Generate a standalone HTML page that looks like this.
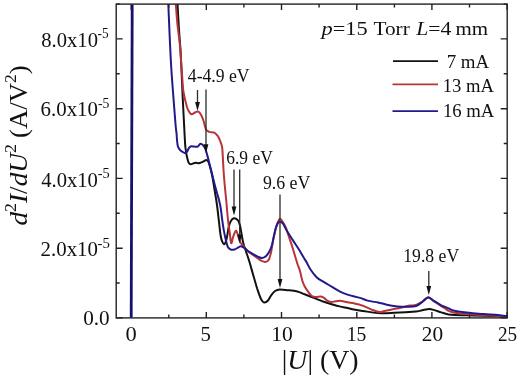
<!DOCTYPE html>
<html><head><meta charset="utf-8"><style>
html,body{margin:0;padding:0;background:#fff;}
svg{display:block;}
text{font-family:"Liberation Serif","Times New Roman",serif;fill:#111;}
.tl{font-size:19px;}
.sup{font-size:12.5px;}
.an{font-size:17px;}
.lg{font-size:18px;}
.ar{stroke:#2a2a2a;stroke-width:1.3;fill:none;}
.ah{fill:#111;stroke:none;}
.c{fill:none;stroke-width:2;stroke-linejoin:round;stroke-linecap:round;}
</style></head><body>
<svg width="520" height="379" viewBox="0 0 520 379">
<rect width="520" height="379" fill="#fff"/>
<defs><clipPath id="pc"><rect x="116.2" y="4.1" width="391.0" height="313.79999999999995"/></clipPath></defs>
<g clip-path="url(#pc)">
<path class="c" stroke="#111" d="M177.5 4.0 C177.8 8.3 178.5 22.3 179.0 30.0 C179.5 37.7 180.1 43.3 180.5 50.0 C180.9 56.7 181.1 61.1 181.5 70.0 C181.9 78.9 182.4 92.2 183.0 103.6 C183.6 115.0 184.4 131.1 184.8 138.5 C185.2 145.9 185.2 145.1 185.5 148.0 C185.8 150.9 186.3 153.6 186.8 156.0 C187.3 158.4 187.9 160.9 188.5 162.3 C189.1 163.7 189.5 164.2 190.5 164.3 C191.5 164.4 193.4 163.2 194.5 163.0 C195.6 162.8 196.3 162.8 197.0 162.9 C197.7 163.0 197.8 163.4 198.6 163.3 C199.3 163.2 200.7 162.7 201.5 162.4 C202.3 162.1 202.9 161.7 203.7 161.3 C204.5 160.9 205.4 160.1 206.2 160.1 C206.9 160.1 207.6 160.6 208.2 161.6 C208.8 162.6 209.2 163.9 209.8 166.0 C210.4 168.1 211.1 170.3 211.9 174.3 C212.7 178.3 213.8 184.9 214.6 190.0 C215.4 195.1 216.3 199.7 217.0 205.0 C217.7 210.3 218.4 216.8 219.0 222.0 C219.6 227.2 220.2 232.8 220.7 236.0 C221.2 239.2 221.4 239.6 222.0 241.0 C222.6 242.4 223.3 244.2 224.0 244.3 C224.7 244.4 225.3 242.8 225.9 241.3 C226.5 239.8 226.9 237.7 227.3 235.4 C227.8 233.1 228.1 229.8 228.6 227.5 C229.1 225.2 229.7 223.1 230.6 221.5 C231.5 219.9 232.7 218.4 233.9 218.2 C235.1 218.0 236.8 219.1 237.8 220.2 C238.8 221.3 239.2 222.9 239.8 224.8 C240.4 226.7 240.7 229.0 241.1 231.4 C241.5 233.8 242.1 237.1 242.5 239.4 C242.9 241.7 243.2 242.9 243.8 245.0 C244.4 247.1 245.2 249.0 246.2 252.0 C247.2 255.0 248.6 259.0 249.8 263.0 C251.0 267.0 252.2 271.7 253.5 276.0 C254.8 280.3 256.1 285.2 257.3 289.0 C258.6 292.8 259.9 296.8 261.0 299.0 C262.1 301.2 262.8 302.2 264.0 302.5 C265.2 302.8 266.8 301.8 268.0 300.5 C269.2 299.2 270.2 296.6 271.4 295.0 C272.6 293.4 273.7 291.9 275.1 291.0 C276.5 290.1 277.6 289.6 279.7 289.5 C281.8 289.4 285.1 289.9 288.0 290.2 C290.9 290.5 294.5 290.8 297.3 291.5 C300.1 292.2 301.5 293.1 304.6 294.3 C307.7 295.5 312.6 297.4 315.8 298.6 C319.0 299.8 321.1 300.8 323.7 301.7 C326.3 302.6 329.0 303.4 331.7 304.2 C334.4 305.0 337.0 305.8 339.6 306.4 C342.2 307.0 345.1 307.5 347.5 308.0 C349.9 308.5 351.2 309.0 353.8 309.5 C356.4 310.0 359.3 310.4 363.3 311.0 C367.3 311.6 372.8 312.8 377.9 313.1 C383.0 313.4 387.4 313.1 393.8 312.8 C400.2 312.6 411.2 312.0 416.0 311.6 C420.8 311.2 420.1 310.6 422.3 310.2 C424.5 309.8 427.2 309.0 429.3 309.0 C431.4 309.0 433.0 309.8 435.0 310.4 C437.0 311.0 439.2 311.8 441.3 312.4 C443.4 313.0 445.4 313.8 447.6 314.2 C449.8 314.6 448.5 314.8 454.5 315.0 C460.5 315.2 475.0 315.4 483.6 315.7 C492.2 315.9 502.3 316.4 506.0 316.5"/>
<path class="c" stroke="#b8343a" d="M175.8 4.0 C176.1 7.5 176.8 18.3 177.5 25.0 C178.2 31.7 179.2 38.2 179.8 44.0 C180.4 49.8 180.6 53.8 181.0 60.0 C181.4 66.2 182.1 75.7 182.5 81.0 C182.9 86.3 182.8 87.8 183.5 92.0 C184.2 96.2 185.9 103.2 186.8 106.5 C187.7 109.8 188.2 110.2 189.0 111.5 C189.8 112.8 190.5 114.2 191.6 114.3 C192.7 114.4 194.4 112.7 195.5 112.3 C196.6 111.9 197.4 111.2 198.4 111.7 C199.4 112.2 200.4 113.7 201.3 115.2 C202.2 116.8 202.8 118.6 203.6 121.0 C204.4 123.4 205.0 127.7 206.0 129.5 C207.0 131.3 208.1 131.4 209.5 131.9 C210.9 132.4 212.9 131.9 214.3 132.6 C215.7 133.3 216.9 134.8 217.9 136.2 C218.9 137.6 219.5 139.2 220.2 141.0 C220.9 142.8 221.7 144.6 222.1 146.9 C222.5 149.2 222.5 151.3 222.7 154.8 C222.9 158.3 223.1 163.0 223.4 168.0 C223.7 173.0 224.2 179.7 224.7 185.0 C225.2 190.3 225.7 195.0 226.2 200.0 C226.7 205.0 227.1 210.9 227.5 215.0 C227.9 219.1 228.2 221.6 228.6 224.8 C229.0 228.0 229.5 230.9 229.9 234.0 C230.3 237.1 230.6 242.9 231.2 243.3 C231.8 243.8 232.4 238.8 233.2 236.7 C234.0 234.6 235.1 231.1 235.9 230.8 C236.7 230.5 237.2 233.3 237.8 234.7 C238.4 236.1 238.6 237.9 239.2 239.4 C239.8 240.9 240.3 242.3 241.1 243.5 C241.9 244.7 242.9 245.4 243.8 246.5 C244.7 247.6 245.2 248.6 246.4 249.8 C247.6 251.0 249.3 252.5 251.1 253.8 C252.9 255.1 255.5 256.7 257.1 257.8 C258.8 258.9 259.6 259.9 261.0 260.6 C262.4 261.3 264.1 262.2 265.4 262.0 C266.7 261.8 267.9 261.2 268.9 259.4 C269.9 257.6 270.6 254.3 271.3 251.1 C272.0 247.9 272.5 243.6 273.1 240.4 C273.7 237.2 274.4 234.5 275.0 232.0 C275.6 229.5 275.9 227.5 276.7 225.3 C277.5 223.1 278.8 219.2 279.8 218.7 C280.9 218.2 281.9 220.6 283.0 222.2 C284.1 223.8 285.1 225.9 286.2 228.5 C287.2 231.1 288.2 234.8 289.3 238.0 C290.4 241.2 291.5 244.2 292.5 247.5 C293.5 250.8 294.6 254.5 295.5 257.5 C296.4 260.5 297.2 263.2 298.0 265.5 C298.8 267.8 299.3 268.4 300.0 271.0 C300.7 273.6 301.6 278.4 302.4 281.0 C303.2 283.6 303.8 284.8 304.7 286.5 C305.6 288.2 306.7 289.8 307.9 291.4 C309.1 293.0 310.6 295.1 311.9 296.0 C313.2 296.9 314.4 296.9 315.8 297.0 C317.2 297.1 319.3 296.4 320.6 296.5 C321.9 296.6 322.5 297.0 323.7 297.7 C324.9 298.4 326.4 300.2 327.7 300.9 C329.0 301.6 330.4 301.9 331.7 302.0 C333.0 302.1 334.0 301.4 335.6 301.2 C337.2 301.0 339.2 300.7 341.2 300.9 C343.2 301.1 345.4 301.8 347.5 302.2 C349.6 302.6 351.7 302.9 353.8 303.3 C355.9 303.8 358.4 304.5 360.0 304.9 C361.6 305.3 361.4 305.0 363.3 305.8 C365.2 306.6 369.0 308.6 371.7 309.6 C374.4 310.6 377.4 311.8 379.5 312.0 C381.6 312.2 381.9 311.5 384.3 311.0 C386.7 310.5 390.9 309.7 393.8 309.1 C396.7 308.5 399.1 308.1 401.7 307.5 C404.3 306.9 407.2 306.0 409.6 305.6 C412.0 305.2 413.9 305.7 416.0 305.0 C418.1 304.3 420.3 302.8 422.3 301.5 C424.3 300.2 426.4 297.3 428.2 297.2 C430.0 297.1 431.2 299.3 433.4 300.8 C435.6 302.3 439.5 305.0 441.3 306.2 C443.1 307.4 443.3 307.1 444.4 307.8 C445.5 308.5 446.3 309.7 448.0 310.5 C449.7 311.3 451.0 312.2 454.5 312.8 C458.0 313.4 464.1 313.9 469.0 314.3 C473.9 314.7 477.4 314.9 483.6 315.3 C489.8 315.7 502.3 316.3 506.0 316.5"/>
<path class="c" stroke="#221a8c" d="M168.3 4.0 C168.7 13.3 169.9 43.4 170.8 60.0 C171.7 76.6 173.1 92.8 173.9 103.6 C174.7 114.4 175.2 119.9 175.6 125.0 C176.0 130.1 176.3 131.3 176.6 134.0 C176.8 136.7 176.9 139.0 177.1 141.0 C177.3 143.0 177.4 144.6 177.8 146.0 C178.2 147.4 178.7 148.3 179.5 149.3 C180.3 150.3 181.5 151.2 182.5 151.8 C183.5 152.5 184.7 153.3 185.5 153.2 C186.3 153.1 186.9 151.9 187.5 151.0 C188.1 150.1 188.4 148.6 189.0 147.8 C189.6 147.0 190.3 146.5 191.2 146.3 C192.1 146.1 193.4 146.6 194.5 146.6 C195.6 146.6 196.7 147.1 197.7 146.6 C198.7 146.1 199.6 144.0 200.5 143.8 C201.4 143.6 202.3 144.5 203.2 145.4 C204.0 146.3 204.9 147.7 205.6 149.5 C206.3 151.3 206.8 153.7 207.5 156.1 C208.2 158.5 208.7 160.9 209.5 164.0 C210.3 167.1 211.3 171.1 212.2 174.6 C213.1 178.1 214.0 181.9 214.8 185.0 C215.6 188.1 216.3 190.5 217.0 193.0 C217.7 195.5 218.4 197.5 219.0 200.0 C219.6 202.5 220.1 204.3 220.7 208.0 C221.3 211.7 221.9 218.1 222.5 222.0 C223.1 225.9 223.4 228.3 224.0 231.4 C224.6 234.5 225.3 238.0 226.0 240.7 C226.7 243.3 227.2 245.8 228.0 247.3 C228.8 248.8 229.5 249.1 230.6 249.5 C231.7 249.9 233.2 249.9 234.5 249.5 C235.8 249.1 237.4 247.9 238.5 247.3 C239.6 246.8 240.0 246.0 241.1 246.2 C242.2 246.4 243.8 247.7 245.1 248.6 C246.4 249.5 247.4 250.6 248.8 251.5 C250.2 252.4 251.9 253.4 253.5 254.3 C255.1 255.2 256.9 256.2 258.3 256.8 C259.7 257.4 260.6 258.0 261.8 258.0 C263.0 258.0 264.2 257.6 265.4 256.6 C266.6 255.7 267.8 254.2 268.9 252.3 C270.0 250.4 271.1 247.8 271.9 245.2 C272.7 242.6 273.1 239.6 273.7 236.9 C274.3 234.2 274.9 231.2 275.5 229.0 C276.1 226.8 276.8 225.0 277.5 223.7 C278.2 222.4 278.9 221.4 279.8 221.4 C280.7 221.4 281.8 222.1 283.0 223.7 C284.2 225.3 285.4 228.2 287.0 230.9 C288.6 233.6 290.7 236.8 292.5 239.6 C294.3 242.4 296.6 245.8 298.0 248.0 C299.4 250.2 300.0 251.3 301.0 253.0 C302.0 254.7 303.0 256.3 304.0 258.0 C305.0 259.7 305.9 261.1 307.0 263.0 C308.1 264.9 308.9 267.1 310.5 269.5 C312.1 271.9 314.4 275.1 316.6 277.2 C318.8 279.3 321.2 280.3 323.7 281.9 C326.2 283.5 329.0 285.1 331.7 286.7 C334.4 288.3 337.0 290.1 339.6 291.4 C342.2 292.7 344.1 293.5 347.5 294.6 C350.9 295.7 356.7 296.9 360.0 297.9 C363.3 298.9 364.5 299.8 367.5 300.6 C370.5 301.4 374.8 301.9 377.9 302.5 C380.9 303.1 383.1 303.8 385.8 304.4 C388.5 305.0 391.2 305.6 393.8 306.0 C396.4 306.4 399.3 306.6 401.7 306.7 C404.1 306.8 405.6 306.9 408.0 306.8 C410.4 306.7 413.6 306.8 416.0 306.0 C418.4 305.2 420.3 303.4 422.3 302.0 C424.3 300.6 426.4 297.6 428.2 297.4 C430.0 297.2 431.2 299.3 433.4 300.6 C435.6 301.9 439.5 304.4 441.3 305.4 C443.1 306.4 443.2 306.1 444.4 306.6 C445.6 307.1 447.0 307.7 448.7 308.4 C450.4 309.1 451.1 310.0 454.5 310.7 C457.9 311.4 464.1 312.2 469.0 312.8 C473.9 313.4 478.8 313.6 483.6 314.0 C488.5 314.4 494.2 314.6 498.1 315.0 C502.0 315.4 505.4 316.0 506.8 316.2"/>
</g>
<rect x="116.2" y="4.1" width="391.0" height="313.79999999999995" fill="none" stroke="#222" stroke-width="1.4"/>
<path d="M131.2 317.9 V311.9 M131.2 4.1 V10.1 M168.8 317.9 V314.4 M168.8 4.1 V7.6 M206.3 317.9 V311.9 M206.3 4.1 V10.1 M243.9 317.9 V314.4 M243.9 4.1 V7.6 M281.5 317.9 V311.9 M281.5 4.1 V10.1 M319.1 317.9 V314.4 M319.1 4.1 V7.6 M356.8 317.9 V311.9 M356.8 4.1 V10.1 M394.4 317.9 V314.4 M394.4 4.1 V7.6 M431.9 317.9 V311.9 M431.9 4.1 V10.1 M469.5 317.9 V314.4 M469.5 4.1 V7.6 M507.1 317.9 V311.9 M507.1 4.1 V10.1 M116.2 317.9 H122.7 M507.2 317.9 H500.7 M116.2 283.0 H119.7 M507.2 283.0 H503.7 M116.2 248.2 H122.7 M507.2 248.2 H500.7 M116.2 213.3 H119.7 M507.2 213.3 H503.7 M116.2 178.4 H122.7 M507.2 178.4 H500.7 M116.2 143.5 H119.7 M507.2 143.5 H503.7 M116.2 108.7 H122.7 M507.2 108.7 H500.7 M116.2 73.8 H119.7 M507.2 73.8 H503.7 M116.2 38.9 H122.7 M507.2 38.9 H500.7 M116.2 4.1 H119.7 M507.2 4.1 H503.7" stroke="#222" stroke-width="1.4" fill="none"/>
<path d="M131.2 317.2 L132.2 4.8" stroke="#17106c" stroke-width="2.8"/>
<text x="41.30" y="46.80" font-size="21.00" textLength="56.64" lengthAdjust="spacingAndGlyphs" >8.0x10</text>
<text x="40.60" y="116.40" font-size="21.00" textLength="57.37" lengthAdjust="spacingAndGlyphs" >6.0x10</text>
<text x="41.20" y="186.80" font-size="21.00" textLength="56.72" lengthAdjust="spacingAndGlyphs" >4.0x10</text>
<text x="40.60" y="256.10" font-size="21.00" textLength="57.37" lengthAdjust="spacingAndGlyphs" >2.0x10</text>
<text x="83.20" y="325.20" font-size="21.00" textLength="26.46" lengthAdjust="spacingAndGlyphs" >0.0</text>
<text x="97.50" y="37.70" font-size="14.20" textLength="11.09" lengthAdjust="spacingAndGlyphs" >-5</text>
<text x="97.90" y="108.20" font-size="14.20" textLength="11.45" lengthAdjust="spacingAndGlyphs" >-5</text>
<text x="97.80" y="178.30" font-size="14.20" textLength="12.02" lengthAdjust="spacingAndGlyphs" >-5</text>
<text x="97.50" y="247.70" font-size="14.20" textLength="12.38" lengthAdjust="spacingAndGlyphs" >-5</text>
<text x="131.25" y="341.00" font-size="20.70" textLength="11.22" lengthAdjust="spacingAndGlyphs" text-anchor="middle">0</text>
<text x="205.75" y="341.00" font-size="20.70" textLength="10.40" lengthAdjust="spacingAndGlyphs" text-anchor="middle">5</text>
<text x="282.10" y="341.00" font-size="20.70" textLength="21.54" lengthAdjust="spacingAndGlyphs" text-anchor="middle">10</text>
<text x="356.50" y="341.00" font-size="20.70" textLength="19.67" lengthAdjust="spacingAndGlyphs" text-anchor="middle">15</text>
<text x="432.40" y="341.00" font-size="20.70" textLength="21.31" lengthAdjust="spacingAndGlyphs" text-anchor="middle">20</text>
<text x="507.55" y="341.00" font-size="20.70" textLength="19.24" lengthAdjust="spacingAndGlyphs" text-anchor="middle">25</text>
<text x="281.80" y="369.10" font-size="27.00" textLength="76.73" lengthAdjust="spacingAndGlyphs" >|<tspan font-style="italic">U</tspan>| (V)</text>
<text x="446.70" y="67.80" font-size="19.00" textLength="42.48" lengthAdjust="spacingAndGlyphs" >7 mA</text>
<text x="442.70" y="91.80" font-size="19.00" textLength="51.28" lengthAdjust="spacingAndGlyphs" >13 mA</text>
<text x="442.90" y="117.10" font-size="19.00" textLength="51.46" lengthAdjust="spacingAndGlyphs" >16 mA</text>
<text x="321.60" y="35.00" font-size="19.80" textLength="46.02" lengthAdjust="spacingAndGlyphs" ><tspan font-style="italic">p</tspan>=15</text>
<text x="373.50" y="35.40" font-size="19.80" textLength="36.26" lengthAdjust="spacingAndGlyphs" >Torr</text>
<text x="416.20" y="35.40" font-size="19.80" textLength="35.13" lengthAdjust="spacingAndGlyphs" ><tspan font-style="italic">L</tspan>=4</text>
<text x="455.40" y="35.00" font-size="19.80" textLength="32.60" lengthAdjust="spacingAndGlyphs" >mm</text>
<text x="187.80" y="81.50" font-size="17.80" textLength="61.82" lengthAdjust="spacingAndGlyphs" >4-4.9 eV</text>
<text x="226.20" y="163.80" font-size="17.80" textLength="46.62" lengthAdjust="spacingAndGlyphs" >6.9 eV</text>
<text x="262.90" y="189.40" font-size="17.80" textLength="47.48" lengthAdjust="spacingAndGlyphs" >9.6 eV</text>
<text x="403.30" y="262.20" font-size="17.80" textLength="55.82" lengthAdjust="spacingAndGlyphs" >19.8 eV</text>
<text transform="translate(27.00,225.60) rotate(-90)" font-size="24.5" textLength="81.61" lengthAdjust="spacingAndGlyphs"><tspan font-style="italic">d</tspan><tspan font-size="16" dy="-10.7">2</tspan><tspan font-style="italic" dy="10.7">I</tspan>/<tspan font-style="italic">dU</tspan><tspan font-size="16" dy="-10.7">2</tspan></text>
<text transform="translate(27.00,138.00) rotate(-90)" font-size="24.5" textLength="72.59" lengthAdjust="spacingAndGlyphs">(A/V<tspan font-size="16" dy="-10.7">2</tspan><tspan dy="10.7">)</tspan></text>
<path d="M393 61.2 H438" stroke="#111" stroke-width="1.8"/>
<path d="M392.5 84.3 H438" stroke="#b8343a" stroke-width="1.8"/>
<path d="M392.5 111.2 H438" stroke="#221a8c" stroke-width="1.8"/>
<path d="M197.5 90.0 V105.0" class="ar"/><path d="M195.1 102.0 L199.9 102.0 L197.5 111.0 Z" class="ah"/><path d="M206.0 89.5 V147.3" class="ar"/><path d="M203.6 144.3 L208.4 144.3 L206.0 153.3 Z" class="ah"/><path d="M234.0 169.5 V209.5" class="ar"/><path d="M231.6 206.5 L236.4 206.5 L234.0 215.5 Z" class="ah"/><path d="M239.7 169.5 V237.5" class="ar"/><path d="M237.3 234.5 L242.1 234.5 L239.7 243.5 Z" class="ah"/><path d="M280.0 194.5 V282.0" class="ar"/><path d="M277.6 279.0 L282.4 279.0 L280.0 288.0 Z" class="ah"/><path d="M428.8 271.0 V289.0" class="ar"/><path d="M426.4 286.0 L431.2 286.0 L428.8 295.0 Z" class="ah"/>
</svg>
</body></html>
